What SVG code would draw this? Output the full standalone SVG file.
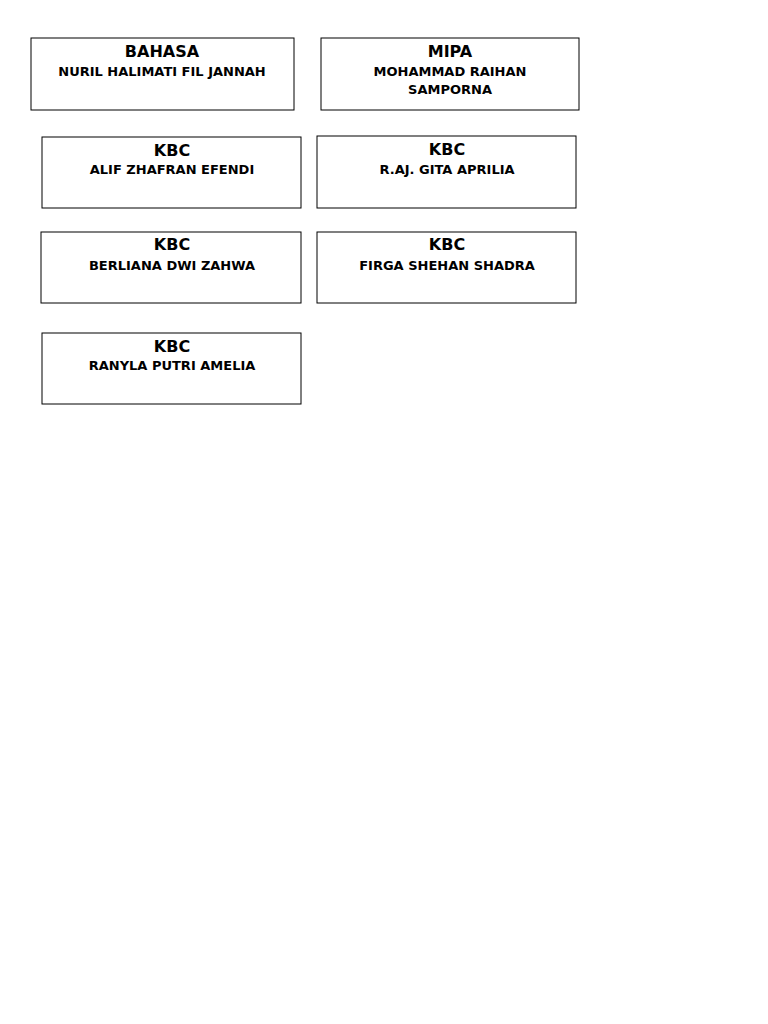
<svg xmlns="http://www.w3.org/2000/svg" width="768" height="1024" viewBox="0 0 768 1024">
<style>
rect{fill:#fff;stroke:#000;stroke-width:1}
text{font-family:"DejaVu Sans",sans-serif;font-weight:bold;text-anchor:middle;fill:#000}
.t{font-size:16px}.n{font-size:13px}
</style>
<rect x="0" y="0" width="768" height="1024" style="stroke:none"/>
<g id="bahasa"><rect x="31" y="38" width="263" height="72"/><text class="t" x="162" y="57">BAHASA</text><text class="n" x="162" y="76">NURIL HALIMATI FIL JANNAH</text></g>
<g id="mipa"><rect x="321" y="38" width="258" height="72"/><text class="t" x="450" y="57">MIPA</text><text class="n" x="450" y="76">MOHAMMAD RAIHAN</text><text class="n" x="450" y="94">SAMPORNA</text></g>
<g id="kbc1"><rect x="42" y="137" width="259" height="71"/><text class="t" x="172" y="156">KBC</text><text class="n" x="172" y="174">ALIF ZHAFRAN EFENDI</text></g>
<g id="kbc2"><rect x="317" y="136" width="259" height="72"/><text class="t" x="447" y="155">KBC</text><text class="n" x="447" y="174">R.AJ. GITA APRILIA</text></g>
<g id="kbc3"><rect x="41" y="232" width="260" height="71"/><text class="t" x="172" y="250">KBC</text><text class="n" x="172" y="270">BERLIANA DWI ZAHWA</text></g>
<g id="kbc4"><rect x="317" y="232" width="259" height="71"/><text class="t" x="447" y="250">KBC</text><text class="n" x="447" y="270">FIRGA SHEHAN SHADRA</text></g>
<g id="kbc5"><rect x="42" y="333" width="259" height="71"/><text class="t" x="172" y="352">KBC</text><text class="n" x="172" y="370">RANYLA PUTRI AMELIA</text></g>
<g id="connectors"/>
</svg>
